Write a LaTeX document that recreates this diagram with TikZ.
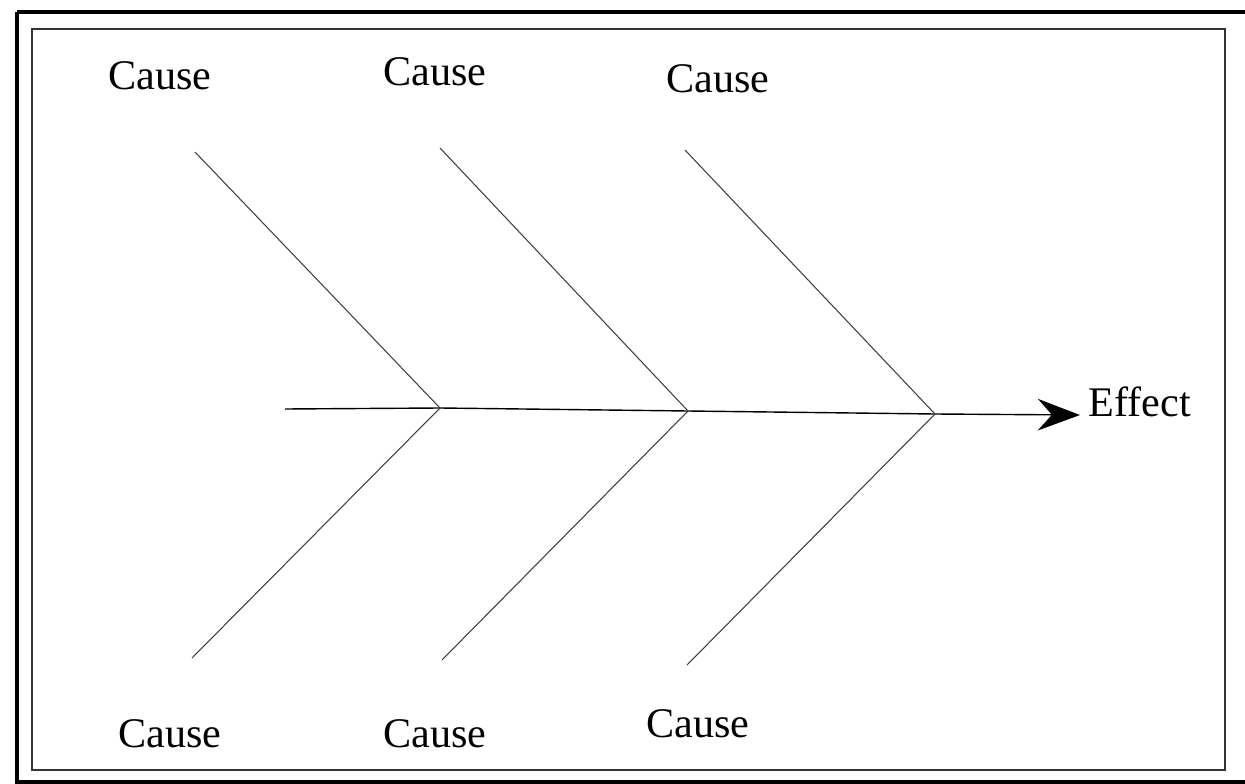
\documentclass[tikz,border=0pt]{standalone}
\usepackage{fontspec}
\setmainfont{Liberation Serif}
\usetikzlibrary{arrows.meta}
\begin{document}
\begin{tikzpicture}[x=0.02cm,y=-0.02cm,
  lbl/.style={font=\fontsize{24}{28}\selectfont,inner sep=0},
  bone/.style={draw=black!75,line width=0.6pt}]
\useasboundingbox (0,0) rectangle (1245,784);
\fill[white] (0,0) rectangle (1245,784);
\draw[line width=2pt] (17,12) -- (1245,12);
\draw[line width=2pt] (17,12) -- (17,784);
\draw[line width=2pt] (17,782) -- (1245,782);
\draw[line width=1.2pt,black!80] (32,29) rectangle (1225,770);
\coordinate (s) at (285,409);
\coordinate (j1) at (440,408);
\coordinate (j2) at (688,411);
\coordinate (j3) at (935,414);
\coordinate (e) at (1080,415);
\coordinate (u1) at (195,152);
\coordinate (u2) at (440,148);
\coordinate (u3) at (685,150);
\coordinate (d1) at (192,658);
\coordinate (d2) at (442,660);
\coordinate (d3) at (687,665);
\draw[line width=0.8pt] (s) -- (j1) -- (j2) -- (j3);
\draw[line width=0.8pt,-{Stealth[length=24pt,width=18pt,inset=8pt]}] (j3) -- (e);
\foreach \a/\b in {u1/j1,u2/j2,u3/j3,j1/d1,j2/d2,j3/d3} \draw[bone] (\a) -- (\b);
\node[lbl] (c1) at (160,76) {Cause};
\node[lbl] (c2) at (435,72) {Cause};
\node[lbl] (c3) at (718,79) {Cause};
\node[lbl] (c4) at (170,734) {Cause};
\node[lbl] (c5) at (435,734) {Cause};
\node[lbl] (c6) at (698,724) {Cause};
\node[lbl] (ef) at (1140,402) {Effect};
\end{tikzpicture}
\end{document}
